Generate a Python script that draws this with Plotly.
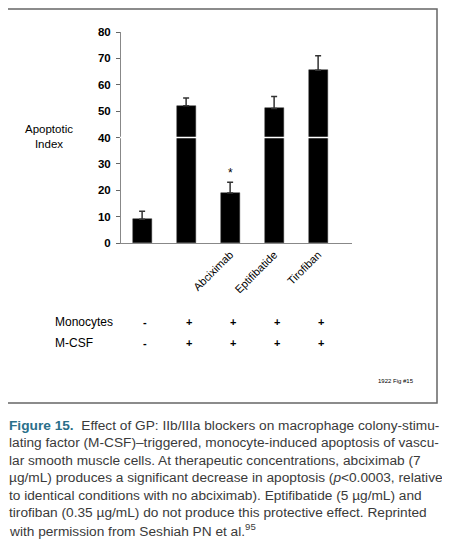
import plotly.graph_objects as go

# ---- data ----
positions = [0, 1, 2, 3, 4]
labelled_positions = [2, 3, 4]
tick_labels = ["Abciximab", "Eptifibatide", "Tirofiban"]
apoptotic_index = [9, 52, 19, 51, 65.5]
error_up = [3, 3, 4, 4.5, 5.5]
monocytes = ["-", "+", "+", "+", "+"]
mcsf = ["-", "+", "+", "+", "+"]
y_ticks = [0, 10, 20, 30, 40, 50, 60, 70, 80]

caption_lines = [
    "<span style='color:#2a6f8a'><b>Figure 15.</b></span>  Effect of GP: IIb/IIIa blockers on macrophage colony-stimu-",
    "lating factor (M-CSF)–triggered, monocyte-induced apoptosis of vascu-",
    "lar smooth muscle cells. At therapeutic concentrations, abciximab (7",
    "µg/mL) produces a significant decrease in apoptosis (<i>p</i><0.0003, relative",
    "to identical conditions with no abciximab). Eptifibatide (5 µg/mL) and",
    "tirofiban (0.35 µg/mL) do not produce this protective effect. Reprinted",
    "with permission from Seshiah PN et al.<sup>95</sup>",
]

# ---- layout geometry (pixel helpers; page has an 8px body margin) ----
O = 8
W, H = 450 - O, 540 - O
L, R, T, B = 121 - O, 352 - O, 32 - O, 243 - O


def px2x(X):
    return (X - O - L) / (R - L)


def px2y(Y):
    return (B - (Y - O)) / (B - T)


fig = go.Figure()
fig.add_trace(go.Bar(
    x=positions, y=apoptotic_index, width=0.43,
    marker=dict(color="black", line=dict(color="#333", width=0.5)),
    error_y=dict(type="data", symmetric=False, array=error_up,
                 arrayminus=[0] * 5, color="#333", thickness=1.5, width=3),
    showlegend=False,
))

font = "Liberation Sans, Arial, Helvetica, sans-serif"

fig.update_layout(
    width=W, height=H,
    margin=dict(l=L, r=W - R, t=T, b=H - B, pad=0),
    paper_bgcolor="white", plot_bgcolor="white",
    font=dict(family=font, color="black"),
    bargap=0,
    xaxis=dict(
        range=[-0.48, 4.77], tickvals=labelled_positions, ticktext=tick_labels,
        tickangle=-45, tickfont=dict(size=11, family=font),
        showgrid=False, zeroline=False, showline=True, linecolor="#888",
        linewidth=1, ticks="", fixedrange=True,
    ),
    yaxis=dict(
        range=[0, 80], tickvals=y_ticks,
        ticktext=[f"<b>{v}</b>" for v in y_ticks],
        tickfont=dict(size=11.5, family=font), showgrid=False, zeroline=False,
        showline=True, linecolor="#888", linewidth=1, ticks="outside",
        ticklen=4, tickcolor="#666", ticklabelstandoff=3,
    ),
)

# white break line at 40
fig.add_shape(type="line", xref="paper", yref="y", x0=-0.005, x1=1, y0=40, y1=40,
              line=dict(color="white", width=1.5), layer="above")

# outer frame
fig.add_shape(type="rect", xref="paper", yref="paper",
              x0=px2x(7), x1=px2x(437), y0=px2y(403), y1=px2y(9),
              line=dict(color="#666", width=1.5))

ann = []
ann.append(dict(text="Apoptotic<br>Index", x=px2x(49), y=px2y(136), xref="paper",
                yref="paper", showarrow=False, xanchor="center", yanchor="middle",
                font=dict(size=11.5, family=font)))
ann.append(dict(text="*", x=2, y=apoptotic_index[2] + error_up[2] + 0.3, xref="x",
                yref="y", showarrow=False, yanchor="bottom", font=dict(size=12)))
for label, vals, Y in [("Monocytes", monocytes, 322), ("M-CSF", mcsf, 343)]:
    ann.append(dict(text=label, x=px2x(53), y=px2y(Y), xref="paper", yref="paper",
                    showarrow=False, xanchor="left", yanchor="middle",
                    font=dict(size=12, family=font)))
    for xi, v in zip(positions, vals):
        ann.append(dict(text=f"<b>{v}</b>", x=xi, y=px2y(Y), xref="x", yref="paper",
                        showarrow=False, xanchor="center", yanchor="middle", xshift=3,
                        font=dict(size=11, family=font)))
ann.append(dict(text="1922 Fig #15", x=px2x(396), y=px2y(381), xref="paper",
                yref="paper", showarrow=False, xanchor="center", yanchor="middle",
                font=dict(size=6, family=font)))

cap_ys = [425, 442.5, 460, 477.5, 495, 512.5, 530]
for line, Y in zip(caption_lines, cap_ys):
    ann.append(dict(text=line, x=px2x(7), y=px2y(Y), xref="paper", yref="paper",
                    showarrow=False, xanchor="left", yanchor="middle",
                    font=dict(size=13.7, family=font, color="#3a3a3a")))

fig.update_layout(annotations=ann)
fig.write_html("out.html")
